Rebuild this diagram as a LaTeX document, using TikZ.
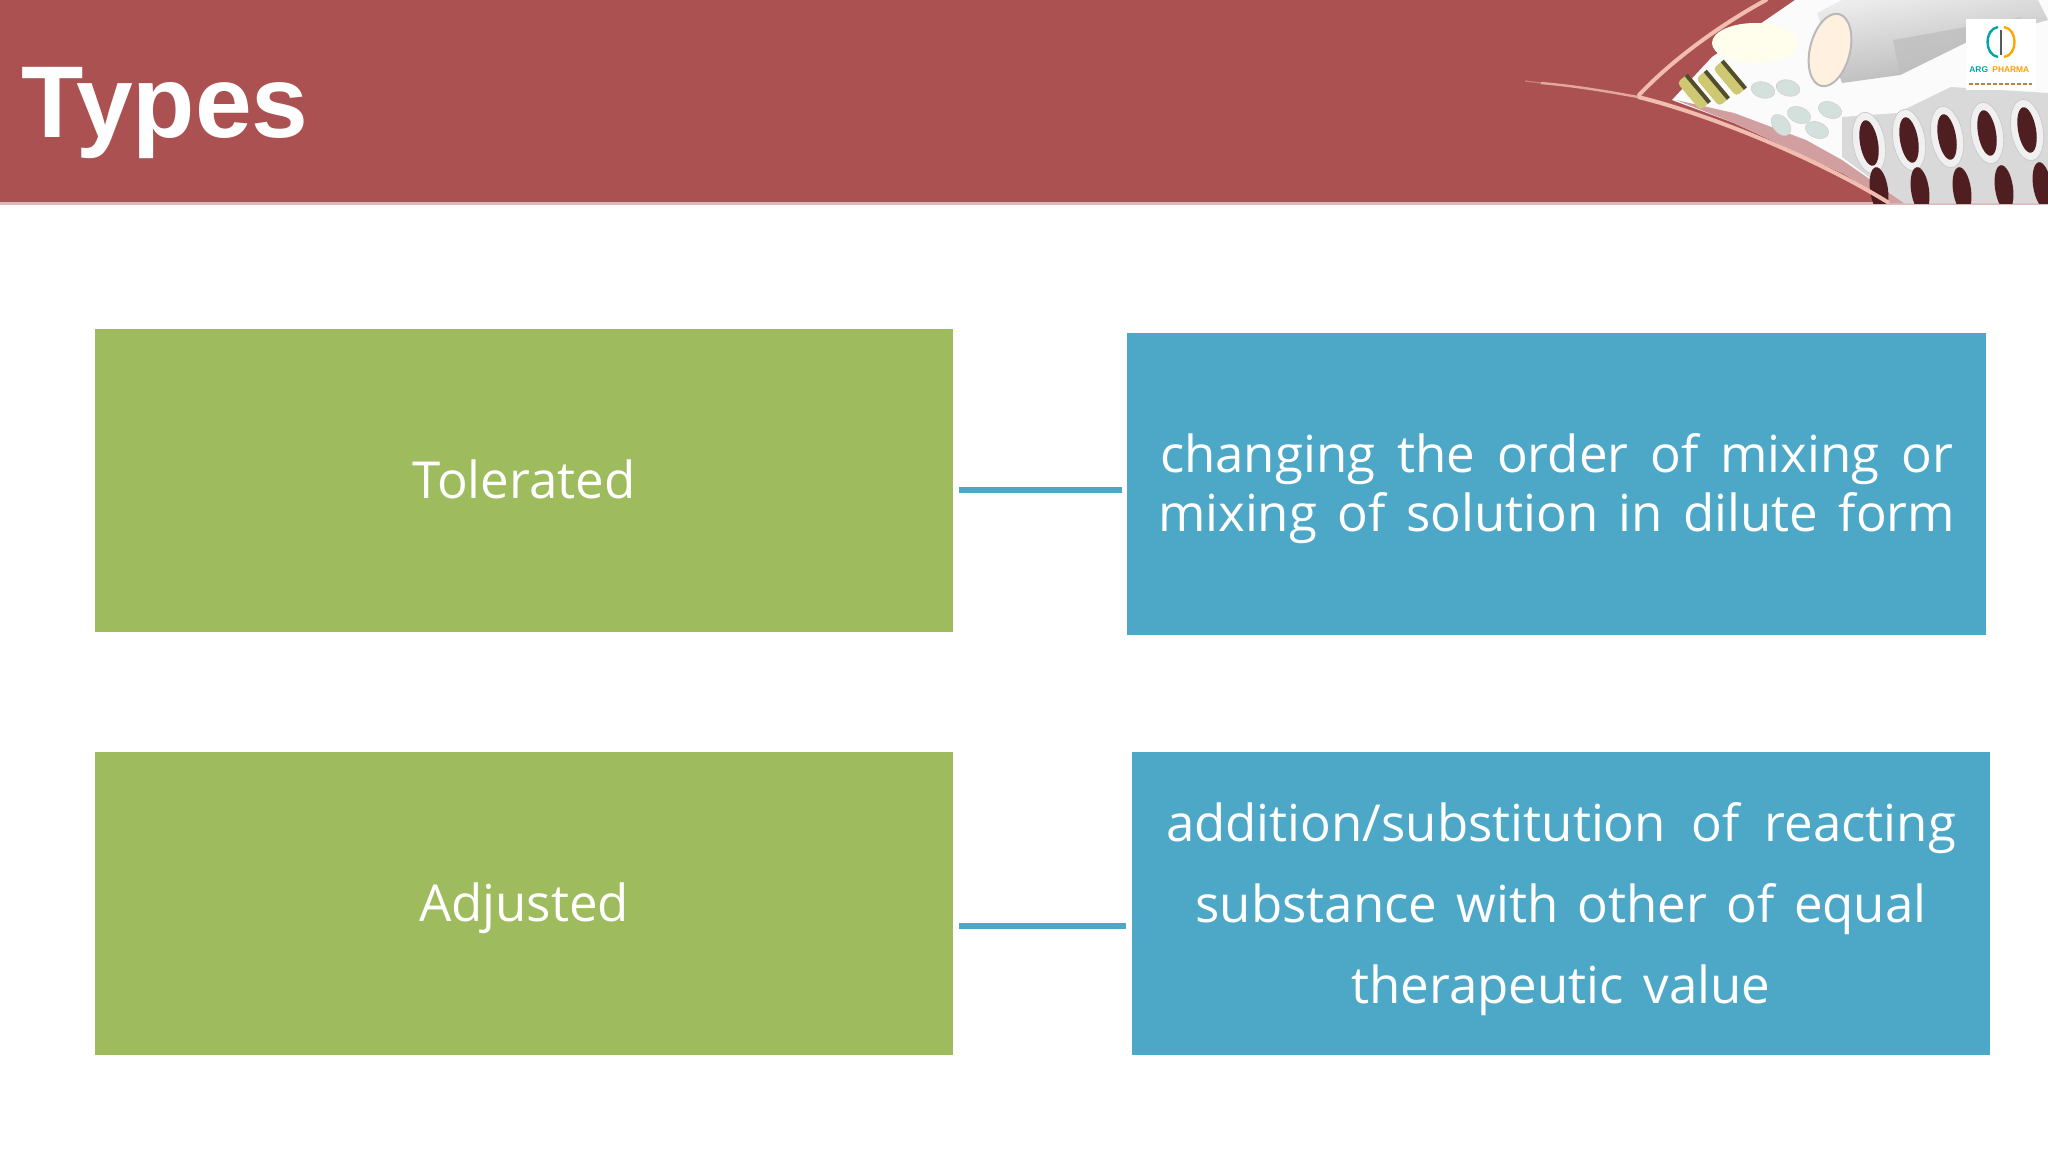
\documentclass[tikz,border=0pt]{standalone}
\usepackage{fontspec}
\setmainfont{Open Sans}
\newfontfamily\titlefont{Liberation Sans}
\usetikzlibrary{calc}
\definecolor{banner}{HTML}{AB5151}
\definecolor{grn}{HTML}{9EBB5D}
\definecolor{blu}{HTML}{4DA8C8}
\definecolor{arc}{HTML}{F0BDB0}
\definecolor{capdark}{HTML}{4E1E20}
\definecolor{pillc}{HTML}{D3E0DB}
\tikzset{
  x=0.5pt,y=-0.5pt,
  greenbox/.style={fill=grn,draw=none,inner sep=0pt,text=white,font=\fontsize{25.5}{30}\selectfont},
  bluebox/.style={fill=blu,draw=none,inner sep=0pt,text=white,font=\fontsize{25.5}{30}\selectfont},
  link/.style={draw=blu,line width=3pt},
  capsule/.style={fill=capdark,draw=none},
  halo/.style={fill=white!88!gray,draw=gray!40,line width=.4pt},
  whitepill/.style={fill=pillc,draw=gray!35,line width=.3pt},
  logotext/.style={inner sep=0pt,font=\titlefont\bfseries\fontsize{4.2}{5}\selectfont},
}
\newcommand{\jline}[2]{\makebox[#1][s]{#2}}
\begin{document}
\begin{tikzpicture}
\useasboundingbox (0,0) rectangle (2048,1152);
\fill[white] (0,0) rectangle (2048,1152);
% banner
\fill[banner] (0,0) rectangle (2048,203);
\fill[banner!40!white] (0,202) rectangle (2048,205);
% picture corner
\begin{scope}
\clip (0,0) rectangle (2048,203);
\fill[white!97!gray] (1795,0) -- (1712,57) -- (1672,100) -- (1734,123) -- (1842,173) -- (1904,203) -- (2048,203) -- (2048,0) -- cycle;
% pink band under the pills
\fill[banner!55!white] (1676,100) -- (1734,113) -- (1806,140) -- (1842,160) -- (1904,203) -- (1889,203) -- (1842,173) -- (1734,123) -- cycle;
% big white pill
\fill[white!93!yellow] (1755,43) ellipse (43 and 20);
% bottle
\shade[top color=white!85!gray,bottom color=gray!60,shading angle=10] (1817,13) -- (1842,0) -- (2038,0) -- (2048,20) -- (1965,43) -- (1900,75) -- (1842,83) -- cycle;
\fill[gray!50,opacity=.8] (1893,40) -- (2023,17) -- (1965,43) -- (1900,75) -- cycle;
\fill[white!88!orange,draw=gray!55,line width=1pt,rotate around={-14:(1830,50)}] (1830,50) ellipse (20 and 37);
% blister
\fill[gray!30] (1842,117) -- (1897,113) -- (1951,87) -- (2048,93) -- (2048,203) -- (1904,203) -- (1842,157) -- cycle;
% capsules
\foreach \cx/\cy in {1869/143,1909/140,1947/137,1987/133,2027/130}{
  \fill[halo,rotate around={10:(\cx,\cy)}] (\cx,\cy) ellipse (16 and 31);
  \fill[capsule,rotate around={10:(\cx,\cy)}] (\cx,\cy) ellipse (9 and 23);
}
\foreach \cx/\cy in {1879/190,1920/190,1962/190,2004/188,2042/185}{
  \fill[capsule,rotate around={8:(\cx,\cy)}] (\cx,\cy) ellipse (9 and 23);
}
% round pills
\foreach \cx/\cy/\a in {1763/90/-15,1788/88/-15,1799/115/-20,1830/110/-20,1817/130/-20,1781/125/-50}{
  \fill[whitepill,rotate around={\a:(\cx,\cy)}] (\cx,\cy) ellipse (12 and 8);
}
% olive capsules
\foreach \cx/\cy in {1694/92,1713/88,1730/78}{
  \fill[white!55!olive,rounded corners=2pt,rotate around={40:(\cx,\cy)}] (\cx-7,\cy-18) rectangle (\cx+7,\cy+18);
  \fill[black!55!olive,rotate around={40:(\cx,\cy)}] (\cx+3,\cy-18) rectangle (\cx+7,\cy+18);
}
% arcs
\draw[arc,line width=2pt,line cap=round] (1639,95) .. controls (1672,60) and (1720,25) .. (1766,0);
\draw[arc,line width=.6pt,opacity=.45] (1525,81) -- (1541,83);
\draw[arc,line width=1.2pt,opacity=.8] (1541,83) .. controls (1575,86) and (1605,91) .. (1638,97);
\draw[arc,line width=2pt] (1638,97) .. controls (1705,113) and (1815,157) .. (1889,203);
\end{scope}
% logo
\fill[white] (1966,19) rectangle (2036,90);
\draw[teal!70!cyan,line width=1.2pt] (1998,27) .. controls (1984,29) and (1984,55) .. (1998,57);
\draw[orange!70!yellow,line width=1.2pt] (2004,27) .. controls (2018,29) and (2018,55) .. (2004,57);
\draw[gray!70!black,line width=.6pt] (2001,30) -- (2001,55);
\node[logotext,text=teal!70!cyan,anchor=base west] (logoa) at (1969,72) {ARG};
\node[logotext,text=orange!75!yellow,anchor=base west] (logob) at (1992,72) {PHARMA};
\draw[orange!50!gray,line width=.9pt,dash pattern=on 2pt off 1pt] (1969,84) -- (2032,84);
% title
\node[anchor=base west,inner sep=0pt,text=white,font=\titlefont\bfseries\fontsize{51}{53}\selectfont] (title) at (21,137) {Types};
% boxes
\node[greenbox,minimum width=429pt,minimum height=151.5pt] (g1) at (524,480.5) {\vphantom{dj}\rule{0pt}{24.6pt}Tolerated};
\node[greenbox,minimum width=429pt,minimum height=151.5pt] (g2) at (524,903.5) {\vphantom{dj}\rule{0pt}{24.6pt}Adjusted};
\node[bluebox,minimum width=429.5pt,minimum height=151pt] (b1) at (1556.5,484) {\begin{minipage}{429.5pt}\vspace*{4.6pt}\centering\fontsize{25.5}{29.3}\selectfont\jline{396.5pt}{changing the order of mixing or}\\\jline{398.5pt}{mixing of solution in dilute form}\end{minipage}};
\node[bluebox,minimum width=429pt,minimum height=151.5pt] (b2) at (1561,903.5) {\begin{minipage}{429pt}\vspace*{5.2pt}\centering\fontsize{25.5}{40.5}\selectfont\jline{395pt}{addition/substitution of reacting}\\\jline{365.5pt}{substance with other of equal}\\\jline{209.5pt}{therapeutic value}\end{minipage}};
% connectors
\coordinate (c1a) at (959,490); \coordinate (c1b) at (1122,490);
\coordinate (c2a) at (959,926); \coordinate (c2b) at (1126,926);
\draw[link] (c1a) -- (c1b);
\draw[link] (c2a) -- (c2b);
\end{tikzpicture}
\end{document}
